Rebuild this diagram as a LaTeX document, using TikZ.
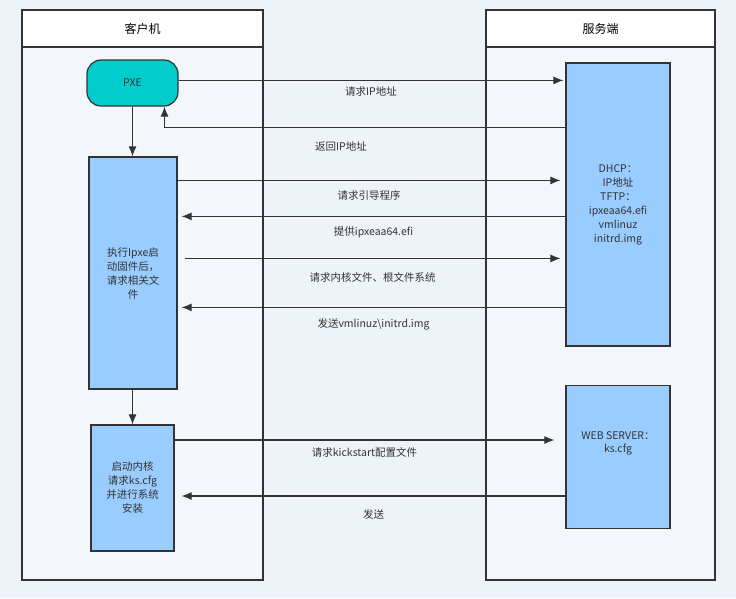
\documentclass[tikz,border=0pt]{standalone}
\usepackage{fontspec}
\setmainfont{Noto Sans CJK SC}
\usetikzlibrary{positioning,arrows.meta,calc}
\definecolor{bgblue}{RGB}{238,243,250}
\definecolor{boxblue}{RGB}{153,204,255}
\definecolor{pxeteal}{RGB}{0,204,204}
\definecolor{dgray}{RGB}{51,51,51}
\begin{document}
\begin{tikzpicture}[x=1pt,y=-1pt,
    lane/.style={draw=dgray, line width=1.2pt, fill=bgblue!70!white},
    head/.style={draw=dgray, line width=1.2pt, fill=white, font=\fontsize{12}{14}\selectfont},
    box/.style={draw=dgray, line width=1.2pt, fill=boxblue, align=center, font=\fontsize{10.5}{14}\selectfont, text=dgray, inner sep=1pt},
    msg/.style={-{Latex[length=10pt,width=8pt]}, draw=dgray, line width=1.1pt},
    lab/.style={font=\fontsize{10.5}{13}\selectfont, text=dgray}]

    \fill[bgblue] (0,0) rectangle (736,598);

    % lanes
    \draw[lane] (22,10) rectangle (263,580);
    \draw[lane] (486,10) rectangle (715,580);
    \node[head, minimum width=241pt, minimum height=37pt] (client) at (142.5,28.5) {客户机};
    \node[head, minimum width=229pt, minimum height=37pt] (server) at (600.5,28.5) {服务端};

    % client side
    \node[box, fill=pxeteal, rounded corners=14pt, minimum width=91pt, minimum height=46pt] (pxe) at (132.5,83) {PXE};
    \node[box, minimum width=88pt, minimum height=232pt] (boot) at (133,273) {执行Ipxe启\\动固件后，\\请求相关文\\件};
    \node[box, minimum width=83pt, minimum height=126pt] (inst) at (132.5,488) {启动内核\\请求ks.cfg\\并进行系统\\安装};

    % server side
    \node[box, minimum width=104pt, minimum height=283pt] (dhcp) at (618,204.5) {DHCP：\\IP地址\\TFTP：\\ipxeaa64.efi\\vmlinuz\\initrd.img};
    \node[box, minimum width=104pt, minimum height=143pt, anchor=north] (web) at (618,385) {};
    \node[lab, align=center] at (618,443) {WEB SERVER：\\ks.cfg};

    % client flow
    \draw[msg] (pxe.south) -- (pxe.south |- boot.north);
    \draw[msg] (boot.south -| pxe.south) -- (inst.north -| pxe.south);

    % messages
    \coordinate (m1) at ($(dhcp.north west)+(-2,18)$);
    \coordinate (m2) at ($(dhcp.north west)+(0,65)$);
    \coordinate (m3) at ($(dhcp.north west)+(-5,118)$);
    \coordinate (m4) at ($(dhcp.north west)+(0,154)$);
    \coordinate (m5) at ($(dhcp.north west)+(-5,196)$);
    \coordinate (m6) at ($(dhcp.north west)+(0,245)$);
    \coordinate (w1) at ($(web.north west)+(-11,55)$);
    \coordinate (w2) at ($(web.north west)+(0,111)$);

    \draw[msg] (m1 -| pxe.east) -- (m1) node[lab, midway, below=2pt] {请求IP地址};
    \draw[msg] (m2) -| ($(pxe.south)+(32,0)$) node[lab, pos=0.28, below=10pt] {返回IP地址};
    \draw[msg] (m3 -| boot.east) -- (m3) node[lab, midway, below=6pt] {请求引导程序};
    \draw[msg] (m4) -- ($(m4 -| boot.east)+(4,0)$) node[lab, midway, below=6pt] {提供ipxeaa64.efi};
    \draw[msg] ($(m5 -| boot.east)+(7,0)$) -- (m5) node[lab, midway, below=10pt] {请求内核文件、根文件系统};
    \draw[msg] (m6) -- ($(m6 -| boot.east)+(4,0)$) node[lab, midway, below=7pt] {发送vmlinuz\textbackslash initrd.img};
    \draw[msg] (w1 -| inst.east) -- (w1) node[lab, midway, below=4pt] {请求kickstart配置文件};
    \draw[msg] (w2) -- ($(w2 -| inst.east)+(7,0)$) node[lab, midway, below=10pt] {发送};
\end{tikzpicture}
\end{document}
